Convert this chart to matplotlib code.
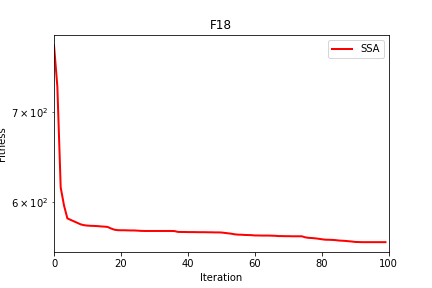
import numpy as np
import matplotlib
matplotlib.use("Agg")
import matplotlib.pyplot as plt

# best fitness per iteration
iterations = np.arange(100)
ssa_fitness = [
    786, 732, 615, 596, 583, 581.5, 580, 578.5, 577, 576.2,
    575.8, 575.6, 575.5, 575.3, 575.0, 574.8, 574.5, 573.0, 571.8, 571.3,
    571.2, 571.2, 571.1, 571.0, 571.0, 570.8, 570.6, 570.5, 570.5, 570.5,
    570.5, 570.5, 570.5, 570.5, 570.5, 570.5, 570.4, 569.6, 569.5, 569.5,
    569.4, 569.4, 569.4, 569.3, 569.3, 569.3, 569.2, 569.2, 569.1, 569.1,
    569.0, 568.6, 568.2, 567.8, 567.2, 566.9, 566.8, 566.6, 566.5, 566.4,
    566.1, 566.1, 566.0, 566.0, 566.0, 565.9, 565.8, 565.5, 565.5, 565.4,
    565.4, 565.3, 565.3, 565.3, 565.3, 564.3, 563.8, 563.6, 563.3, 562.9,
    562.4, 562.0, 561.9, 561.8, 561.6, 561.2, 561.0, 560.8, 560.5, 560.2,
    559.8, 559.7, 559.6, 559.6, 559.6, 559.6, 559.6, 559.6, 559.6, 559.6,
]

fig = plt.figure(figsize=(6, 4), dpi=72)
ax = fig.add_subplot(111)
fig.subplots_adjust(left=0.125, right=0.9, bottom=0.125, top=0.877)

ax.plot(iterations, ssa_fitness, color="r", linewidth=2, label="SSA")
ax.set_yscale("log")
ax.set_xlim(0, 100)
ax.set_title("F18")
ax.set_xlabel("Iteration")
ax.set_ylabel("Fitness")
ax.legend(loc="upper right")

fig.savefig("out.png", dpi=72)
